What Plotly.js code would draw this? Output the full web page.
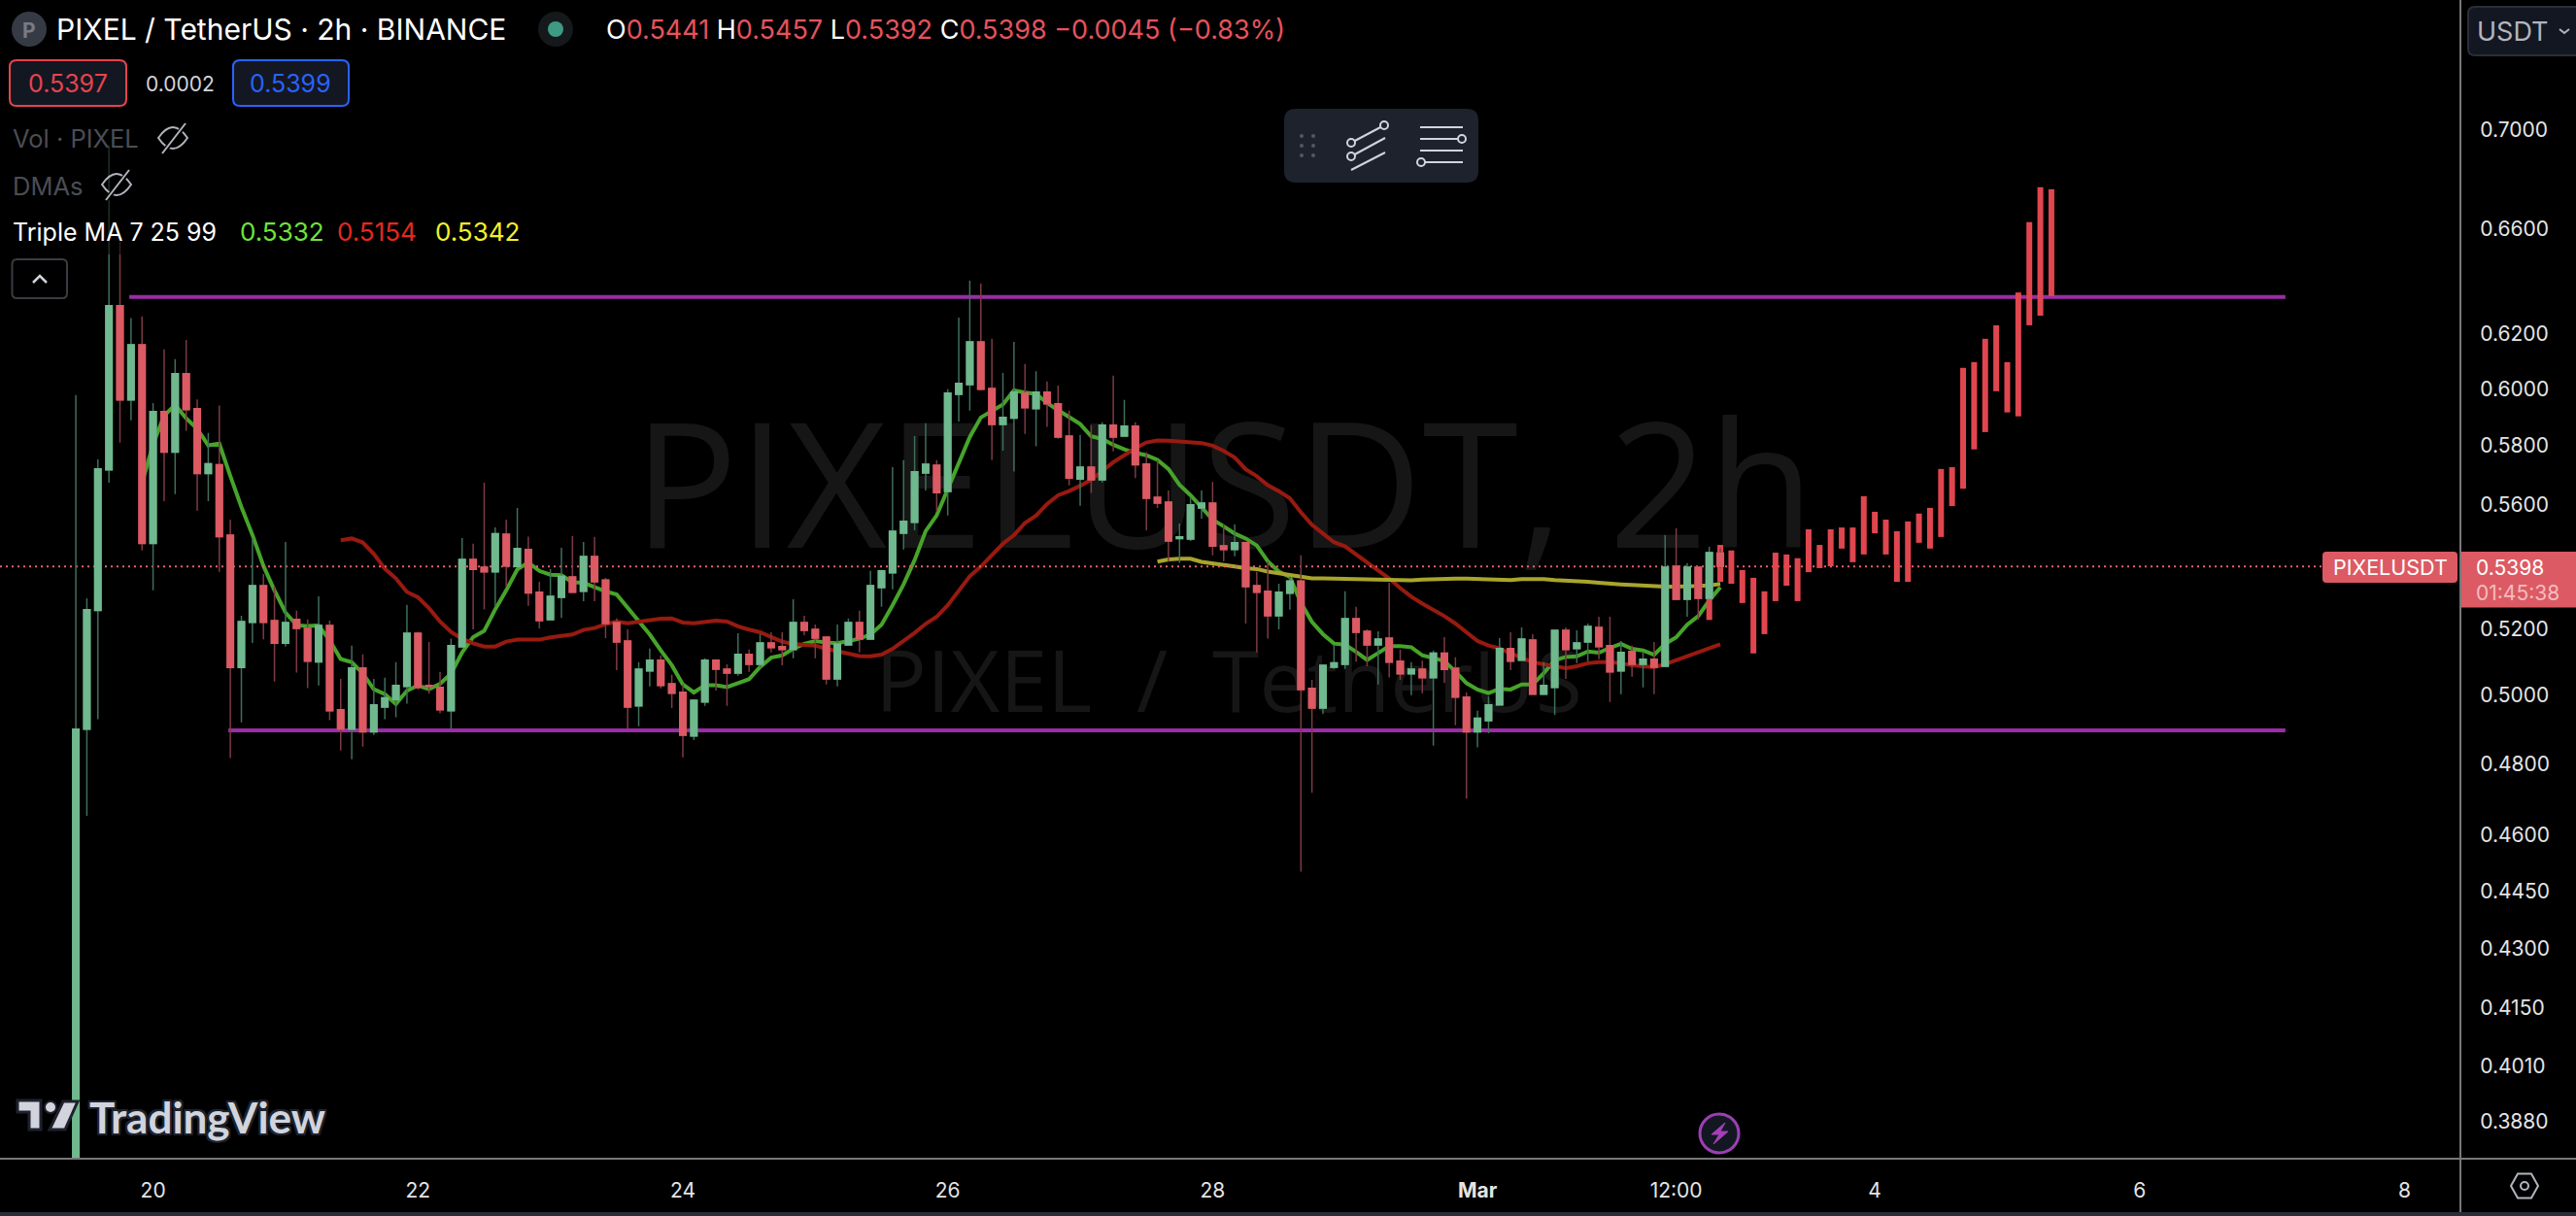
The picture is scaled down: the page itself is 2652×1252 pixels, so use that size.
<!DOCTYPE html>
<html><head><meta charset="utf-8">
<script src="https://cdn.plot.ly/plotly-3.0.1.min.js"></script>
<style>html,body{margin:0;padding:0;background:#000;overflow:hidden}#c{width:2652px;height:1252px}</style>
</head><body><div id="c"></div>
<script>
// ---------- DATA ----------
const opens=[.36,.4900,.5259,.5718,.6305,.5961,.6160,.5473,.5920,.5779,
.6055,.5930,.5706,.5735,.5500,.5083,.5222,.5337,.5227,.5157,
.5231,.5203,.5100,.5212,.4957,.4900,.5082,.4892,.4965,.4987,
.5026,.5188,.5029,.5023,.4954,.5146,.5421,.5396,.5381,.5503,
.5398,.5453,.5316,.5230,.5300,.5365,.5319,.5430,.5355,.5221,
.5164,.4968,.5073,.5105,.5034,.5009,.4880,.4980,.5105,.5078,
.5066,.5123,.5093,.5158,.5147,.5138,.5221,.5200,.5176,.5049,
.5152,.5221,.5170,.5331,.5378,.5506,.5542,.5707,.5734,.5645,
.5981,.6016,.6171,.6002,.5875,.5897,.5985,.5930,.5989,.5947,
.5834,.5687,.5727,.5684,.5872,.5834,.5869,.5738,.5625,.5609,
.5489,.5487,.5590,.5606,.5465,.5453,.5475,.5337,.5319,.5242,
.5313,.5352,.5020,.4962,.5084,.5093,.5233,.5194,.5152,.5173,
.5102,.5064,.5078,.5052,.5127,.5081,.4994,.4892,.4925,.4971,
.5141,.5105,.5167,.5003,.5023,.5197,.5141,.5161,.5206,.5150,
.5073,.5132,.5093,.5108,.5087,.5399,.5294,.5396,.5297,.5441];
const highs=[.5978,.5297,.5754,.6936,.6550,.6259,.6265,.5950,.6143,.6108,
.6178,.5963,.5845,.5941,.5551,.5242,.5490,.5374,.5334,.5478,
.5258,.5231,.5303,.5227,.5049,.5150,.5123,.5049,.5052,.5099,
.5276,.5192,.5161,.5070,.5171,.5490,.5472,.5674,.5525,.5551,
.5590,.5495,.5349,.5390,.5459,.5497,.5478,.5494,.5362,.5234,
.5200,.5099,.5141,.5120,.5061,.5032,.4988,.5111,.5108,.5093,
.5188,.5138,.5185,.5191,.5191,.5294,.5242,.5215,.5179,.5215,
.5234,.5258,.5384,.5387,.5727,.5751,.5834,.5879,.5751,.5999,
.6261,.6400,.6389,.6182,.6058,.6171,.6090,.6064,.6027,.6012,
.5923,.5838,.5872,.5882,.6048,.5961,.5882,.5778,.5751,.5648,
.5538,.5626,.5648,.5677,.5536,.5535,.5475,.5381,.5415,.5343,
.5366,.5434,.5046,.5093,.5153,.5319,.5270,.5200,.5194,.5346,
.5138,.5099,.5104,.5135,.5176,.5114,.5008,.4954,.4997,.5173,
.5191,.5206,.5185,.5099,.5200,.5206,.5197,.5218,.5239,.5239,
.5164,.5150,.5132,.5161,.5500,.5522,.5409,.5399,.5462,.5457];
const lows=[.35,.4653,.4929,.5674,.5811,.5889,.5450,.5322,.5612,.5636,
.5853,.5581,.5612,.5381,.4816,.4920,.5158,.5169,.5041,.5147,
.5068,.5021,.5029,.4926,.4838,.4813,.4849,.4883,.4929,.4935,
.4975,.5017,.5004,.4946,.4900,.5146,.5200,.5262,.5273,.5334,
.5398,.5273,.5203,.5230,.5235,.5313,.5288,.5288,.5173,.5075,
.4902,.4908,.5026,.5020,.4962,.4818,.4868,.4968,.5014,.4968,
.5058,.5070,.5081,.5129,.5090,.5111,.5182,.5111,.5032,.5026,
.5150,.5129,.5170,.5270,.5325,.5453,.5516,.5648,.5578,.5565,
.5885,.5923,.5995,.5751,.5784,.5712,.5842,.5799,.5866,.5825,
.5665,.5597,.5640,.5675,.5781,.5834,.5690,.5516,.5590,.5413,
.5410,.5481,.5554,.5434,.5415,.5431,.5218,.5129,.5171,.5200,
.5261,.4501,.4718,.4945,.5079,.5079,.5101,.5087,.5032,.5053,
.5046,.5000,.5006,.4852,.5036,.4911,.4701,.4847,.4888,.4971,
.5075,.5105,.5003,.5003,.4942,.5049,.5096,.5102,.5108,.4980,
.5003,.5055,.5023,.5003,.5087,.5291,.5239,.5230,.5297,.5392];
const closes=[.4900,.5261,.5721,.6305,.5961,.6160,.5473,.5920,.5779,.6055,
.5927,.5706,.5739,.5495,.5083,.5224,.5337,.5222,.5157,.5221,
.5203,.5102,.5212,.4954,.4900,.5082,.4892,.4971,.4992,.5029,
.5188,.5023,.5026,.4957,.5150,.5421,.5389,.5381,.5505,.5400,
.5456,.5314,.5227,.5303,.5367,.5316,.5430,.5349,.5218,.5161,
.4965,.5078,.5105,.5029,.5006,.4882,.4985,.5105,.5078,.5066,
.5123,.5093,.5158,.5144,.5138,.5221,.5197,.5173,.5049,.5155,
.5221,.5170,.5337,.5384,.5513,.5545,.5711,.5737,.5641,.5985,
.6020,.6171,.5999,.5875,.5899,.5989,.5934,.5989,.5947,.5831,
.5690,.5727,.5684,.5872,.5831,.5869,.5735,.5622,.5606,.5481,
.5494,.5600,.5606,.5464,.5453,.5475,.5334,.5316,.5242,.5316,
.5352,.5017,.4962,.5090,.5097,.5233,.5191,.5152,.5170,.5099,
.5064,.5078,.5052,.5127,.5077,.4994,.4892,.4932,.4971,.5141,
.5102,.5170,.5003,.5029,.5197,.5138,.5158,.5209,.5147,.5070,
.5129,.5093,.5108,.5084,.5396,.5294,.5396,.5297,.5443,.5398];

// Triple MA, first values belong to candle 6, 24 and 98
const ma7=[.5674,.5805,.5906,.5943,.5896,.5859,.5802,.5808,.5697,.5593,.5501,.5400,.5322,.5252,
.5213,.5210,.5212,.5166,.5109,.5099,.5065,.5018,.5003,.4974,.5013,.5029,.5018,.5034,.5065,.5129,
.5176,.5195,.5262,.5322,.5389,.5411,.5384,.5372,.5370,.5348,.5346,.5331,.5319,.5309,.5266,.5224,
.5184,.5135,.5090,.5032,.5008,.5030,.5030,.5024,.5036,.5048,.5085,.5113,.5120,.5140,.5155,.5164,
.5159,.5157,.5164,.5171,.5184,.5214,.5275,.5341,.5419,.5513,.5565,.5653,.5742,.5831,.5899,.5922,
.5945,.5995,.5987,.5983,.5950,.5925,.5901,.5876,.5833,.5824,.5804,.5788,.5776,.5768,.5752,.5721,
.5667,.5632,.5592,.5551,.5529,.5505,.5489,.5466,.5415,.5382,.5365,.5283,.5223,.5185,.5156,.5153,
.5131,.5106,.5127,.5148,.5148,.5145,.5120,.5111,.5103,.5071,.5036,.5017,.5006,.5019,.5017,.5032,
.5032,.5066,.5105,.5115,.5117,.5132,.5128,.5143,.5155,.5140,.5135,.5122,.5155,.5175,.5214,.5241,
.5290,.5332];
const ma25=[.5483,.5489,.5476,.5439,.5391,.5360,.5317,.5300,.5266,.5224,.5192,.5171,.5157,.5147,
.5147,.5162,.5168,.5168,.5168,.5175,.5180,.5184,.5198,.5204,.5216,.5224,.5219,.5224,.5231,.5233,
.5234,.5221,.5219,.5222,.5227,.5224,.5209,.5199,.5191,.5176,.5162,.5155,.5152,.5150,.5140,.5133,
.5127,.5118,.5117,.5122,.5140,.5164,.5189,.5217,.5239,.5275,.5321,.5367,.5398,.5435,.5472,.5500,
.5540,.5564,.5603,.5632,.5646,.5664,.5684,.5714,.5744,.5768,.5792,.5812,.5819,.5818,.5816,.5812,
.5810,.5801,.5783,.5760,.5720,.5696,.5666,.5646,.5622,.5575,.5534,.5505,.5477,.5463,.5438,.5413,
.5388,.5360,.5329,.5302,.5280,.5261,.5241,.5218,.5191,.5164,.5150,.5141,.5126,.5114,.5099,.5093,
.5087,.5081,.5087,.5096,.5099,.5099,.5096,.5090,.5087,.5084,.5093,.5105,.5120,.5129,.5141,.5154];
const ma99=[.5414,.5421,.5423,.5423,.5413,.5407,.5402,.5398,.5393,.5390,.5382,.5376,.5371,.5363,
.5360,.5360,.5359,.5358,.5358,.5357,.5357,.5356,.5355,.5354,.5356,.5358,.5359,.5359,.5359,.5358,
.5355,.5355,.5355,.5358,.5359,.5358,.5355,.5354,.5352,.5349,.5346,.5342,.5341,.5339,.5337,.5334,
.5334,.5334,.5334,.5336,.5338,.5342];

// Drawn "bars pattern": first bar sits at candle 148
const patternHigh=[.5382,.5468,.5450,.5387,.5362,.5319,.5443,.5437,.5425,.5519,.5468,.5519,.5525,.5525,.5629,.5577,
.5551,.5513,.5545,.5571,.5590,.5721,.5727,.6076,.6097,.6182,.6232,.6097,.6355,.6627,.6766,.6758];
const patternLow=[.5229,.5349,.5343,.5282,.5126,.5185,.5288,.5337,.5288,.5380,.5393,.5399,.5456,.5412,.5437,.5506,
.5437,.5349,.5349,.5475,.5456,.5494,.5596,.5654,.5788,.5848,.5992,.5917,.5903,.6232,.6268,.6341];

const resistance=.6338, support=.4896, lastPrice=.5398;
const yTicks=[.7,.66,.62,.6,.58,.56,.52,.5,.48,.46,.445,.43,.415,.401,.388];
const yTickText=['0.7000','0.6600','0.6200','0.6000','0.5800','0.5600','0.5200','0.5000','0.4800','0.4600','0.4450','0.4300','0.4150','0.4010','0.3880'];
const xTicks=['2024-02-20','2024-02-22','2024-02-24','2024-02-26','2024-02-28','2024-03-01','2024-03-02 12:00','2024-03-04','2024-03-06','2024-03-08'];
const xTickText=['20','22','24','26','28','<b>Mar</b>','12:00','4','6','8'];

// ---------- Scales ----------
const W=2652,H=1252,PR=2533,PB=1193;
const t0=Date.UTC(2024,1,19,10),STEP=2*3600e3;
const iso=ms=>new Date(ms).toISOString().slice(0,19).replace('T',' ');
const times=[];for(let i=0;i<180;i++)times.push(iso(t0+i*STEP));
const xRange=['2024-02-18 20:15:36','2024-03-08 10:07:00'];
const yRange=[Math.log10(.3794),Math.log10(.7564)];

const GU='#70b88e',RD='#dc5a63',GW='#3f6e5a',RW='#7c3a44';
const bodyHigh=opens.map((o,i)=>Math.max(o,closes[i])),bodyLow=opens.map((o,i)=>Math.min(o,closes[i]));

const traces=[
 {type:'scatter',mode:'lines',x:times.slice(6,150),y:ma7,line:{color:'#47a42a',width:4},hoverinfo:'skip'},
 {type:'scatter',mode:'lines',x:times.slice(24,150),y:ma25,line:{color:'#981a10',width:4},hoverinfo:'skip'},
 {type:'scatter',mode:'lines',x:times.slice(98,150),y:ma99,line:{color:'#a8a52c',width:4},hoverinfo:'skip'},
 {type:'scatter',mode:'lines',x:['2024-02-19 19:41','2024-03-07 02:24'],y:[resistance,resistance],line:{color:'#9c2ca8',width:4},hoverinfo:'skip'},
 {type:'scatter',mode:'lines',x:['2024-02-20 13:38','2024-03-07 02:24'],y:[support,support],line:{color:'#9c2ca8',width:4},hoverinfo:'skip'},
 {type:'scatter',mode:'lines',x:xRange,y:[lastPrice,lastPrice],line:{color:'#e5606a',width:2,dash:'2px,4px'},hoverinfo:'skip'},
 {type:'bar',xaxis:'x2',yaxis:'y2',x:times.slice(148),base:patternLow,y:patternHigh.map((h,i)=>h-patternLow[i]),width:3.8e6,marker:{color:'#e0464f',line:{width:0}},hoverinfo:'skip'},
 {type:'candlestick',xaxis:'x2',yaxis:'y2',x:times.slice(0,150),open:opens,high:highs,low:lows,close:closes,whiskerwidth:0,
  increasing:{line:{color:GW,width:1.5},fillcolor:GW},decreasing:{line:{color:RW,width:1.5},fillcolor:RW},hoverinfo:'skip'},
 {type:'candlestick',xaxis:'x2',yaxis:'y2',x:times.slice(0,150),open:opens,high:bodyHigh,low:bodyLow,close:closes,whiskerwidth:0,
  increasing:{line:{color:GU,width:1.5},fillcolor:GU},decreasing:{line:{color:RD,width:1.5},fillcolor:RD},hoverinfo:'skip'}
];

// ---------- Chrome helpers (page pixels -> paper fractions) ----------
const px=x=>x/W, py=y=>1-y/H;
const FONT='Inter, "Noto Sans", sans-serif';
const ann=[],shp=[];
function T(text,x,y,size,color,anchor,extra){ann.push(Object.assign({text,x:px(x),y:py(y),xref:'paper',yref:'paper',showarrow:false,xanchor:anchor||'left',yanchor:'middle',borderpad:0,
  font:{family:FONT,size,color}},extra||{}));}
function R(x0,y0,x1,y1,fill,stroke,sw,r){const k=r||0;const d=`M${px(x0+k)},${py(y0)}L${px(x1-k)},${py(y0)}Q${px(x1)},${py(y0)} ${px(x1)},${py(y0+k)}L${px(x1)},${py(y1-k)}Q${px(x1)},${py(y1)} ${px(x1-k)},${py(y1)}L${px(x0+k)},${py(y1)}Q${px(x0)},${py(y1)} ${px(x0)},${py(y1-k)}L${px(x0)},${py(y0+k)}Q${px(x0)},${py(y0)} ${px(x0+k)},${py(y0)}Z`;
  shp.push({type:'path',path:d,xref:'paper',yref:'paper',fillcolor:fill||'rgba(0,0,0,0)',line:{color:stroke||'rgba(0,0,0,0)',width:sw||0}});}
function C(cx,cy,r,fill,stroke,sw){shp.push({type:'circle',xref:'paper',yref:'paper',x0:px(cx-r),x1:px(cx+r),y0:py(cy+r),y1:py(cy-r),fillcolor:fill||'rgba(0,0,0,0)',line:{color:stroke||'rgba(0,0,0,0)',width:sw||0}});}
function L(pts,color,sw,fill){const d=pts.map((p,i)=>(i?'L':'M')+px(p[0])+','+py(p[1])).join('')+(fill?'Z':'');
  shp.push({type:'path',path:d,xref:'paper',yref:'paper',fillcolor:fill||'rgba(0,0,0,0)',line:{color:color||'rgba(0,0,0,0)',width:sw||0}});}
function Eye(cx,cy){const a=15,b=11;const d=`M${px(cx-a)},${py(cy)}Q${px(cx)},${py(cy-2*b)} ${px(cx+a)},${py(cy)}Q${px(cx)},${py(cy+2*b)} ${px(cx-a)},${py(cy)}Z`;
  shp.push({type:'path',path:d,xref:'paper',yref:'paper',line:{color:'#b2b5be',width:2},fillcolor:'rgba(0,0,0,0)'});
  L([[cx+13,cy-14],[cx-10,cy+15]],'#000',5);L([[cx+13,cy-15],[cx-11,cy+16]],'#b2b5be',2);}

// Watermarks (below the candles)
function WM(text,x0,x1,y0,y1,size){shp.push({type:'rect',layer:'below',xref:'paper',yref:'paper',x0:px(x0),x1:px(x1),y0:py(y1),y1:py(y0),line:{width:0},fillcolor:'rgba(0,0,0,0)',
  label:{text,textposition:'middle center',font:{family:'"Open Sans"',size,color:'#161616'},padding:0}});}
WM('PIXELUSDT, 2h',500,2020,406,606,179);
WM('PIXEL\u00a0 /\u00a0 TetherUS',800,1730,660,750,88);

// legend fade over the early wicks
shp.push({type:'rect',xref:'paper',yref:'paper',x0:px(100),x1:px(130),y0:py(262),y1:py(140),fillcolor:'rgba(0,0,0,.55)',line:{width:0}});

// axis borders and price labels
L([[PR,0],[PR,1248]],'#787878',2);L([[0,PB],[W,PB]],'#787878',2);
shp.push({type:'rect',xref:'paper',yref:'paper',x0:0,x1:1,y0:py(1252),y1:py(1248),fillcolor:'#2a2e39',line:{width:0}});

// header
C(30,30,18,'#363a45');T('<b>P</b>',30,31,21,'#787b86','center');
T('PIXEL / TetherUS · 2h · BINANCE',57,30,30,'#ffffff');
C(572,30,18,'#15191b');C(572,30,8,'#3e9a84');
const rv=v=>`<span style="color:#e5535d">${v}</span>`;
T('O'+rv('0.5441')+' H'+rv('0.5457')+' L'+rv('0.5392')+' C'+rv('0.5398')+' '+rv('−0.0045 (−0.83%)'),623,30,27,'#ffffff');

R(10,62,130,109,'#131722','#e5444f',2,7);T('0.5397',70,86,25,'#e5444f','center');
T('0.0002',185,86,21,'#d1d4dc','center');
R(240,62,359,109,'#131722','#2962ff',2,7);T('0.5399',299,86,25,'#2962ff','center');

T('Vol · PIXEL',11.5,143,25.5,'#4a4d55');Eye(178,142);
T('DMAs',11.5,191,25.5,'#4a4d55');Eye(120,190);
T('Triple MA 7 25 99',12,239,25,'#ffffff');
T('0.5332',246,239,26,'#6fe23a');T('0.5154',346,239,26,'#e5281f');T('0.5342',447,239,26,'#f4f02a');
R(12.5,267,69,307,'#000','#3a3c42',2,5);L([[34,291],[41,284],[48,291]],'#d1d4dc',2.5);

// floating toolbar
R(1322,112,1522,188,'#1e222d',null,0,12);
[1340,1352].forEach(x=>[140,150,160].forEach(y=>C(x,y,2,'#555860')));
L([[1391,147],[1425,129]],'#d1d4dc',2);L([[1391,161],[1426,142]],'#d1d4dc',2);L([[1391,175],[1426,157]],'#d1d4dc',2);
C(1391,147,4,'#1e222d','#d1d4dc',2);C(1425,129,4,'#1e222d','#d1d4dc',2);C(1391,161,4,'#1e222d','#d1d4dc',2);
[131,143,155,167].forEach(y=>L([[1462,y],[1506,y]],'#d1d4dc',2));
C(1505,143,4,'#1e222d','#d1d4dc',2);C(1463,167,4,'#1e222d','#d1d4dc',2);

// USDT selector and last-price tags
R(2541,7,2660,57,'#131722','#2a2e39',2,7);T('USDT',2549,32,27,'#b2b5be');L([[2635,30],[2640,34],[2645,30]],'#b2b5be',2);
R(2391,568,2530,600,'#dc5a63',null,0,4);T('PIXELUSDT',2460.5,584,21.5,'#ffffff','center');
R(2534,568,2652,625.5,'#dc5a63');T('0.5398',2548,584,21,'#ffffff');T('01:45:38',2548,610,21,'#f3bcc0');

// TradingView logo
const LOGO='#d1d4dc';
L([[18,1133],[42,1133],[42,1163],[30,1163],[30,1145],[18,1145]],'#1e222d',3,LOGO);
C(52,1140,6,LOGO,'#1e222d',2);
L([[65,1134],[80,1134],[67,1163],[51,1163]],'#1e222d',3,LOGO);
T('<b>TradingView</b>',91,1150,44,LOGO,'left',{});
ann[ann.length-1].font.family='Lato';
ann[ann.length-1].font.shadow='-2px 0 #1e222d,2px 0 #1e222d,0 -2px #1e222d,0 2px #1e222d,2px 2px #1e222d,-2px -2px #1e222d,2px -2px #1e222d,-2px 2px #1e222d';

// lightning badge
C(1770,1167,20,'#131722','#9c3fb5',3);
L([[1776,1156],[1762,1168],[1770,1168],[1764,1178],[1779,1165],[1771,1165]],'#a53fb8',1,'#a53fb8');

// settings hexagon
L([[2585,1221],[2592,1208.5],[2606,1208.5],[2613,1221],[2606,1233.5],[2592,1233.5]],'#b2b5be',2);shp[shp.length-1].path+='Z';
C(2599,1221,4,null,'#b2b5be',2);

const axisCommon={showgrid:false,zeroline:false};
const layout={
 width:W,height:H,margin:{l:0,r:0,t:0,b:0,pad:0},paper_bgcolor:'#000',plot_bgcolor:'#000',showlegend:false,
 boxmode:'overlay',boxgap:.43,boxgroupgap:0,barmode:'overlay',dragmode:false,hovermode:false,
 font:{family:FONT,color:'#d8d8d8'},
 xaxis:Object.assign({},axisCommon,{type:'date',domain:[0,PR/W],range:xRange,tickmode:'array',tickvals:xTicks,ticktext:xTickText,
   ticks:'outside',ticklen:14,tickcolor:'rgba(0,0,0,0)',tickfont:{family:FONT,size:21,color:'#e4e4e4'},showline:false,rangeslider:{visible:false},anchor:'y'}),
 yaxis:Object.assign({},axisCommon,{type:'log',domain:[1-PB/H,1],range:yRange,side:'right',tickmode:'array',tickvals:yTicks,ticktext:yTickText,
   ticks:'outside',ticklen:15,tickcolor:'rgba(0,0,0,0)',tickfont:{family:FONT,size:21,color:'#e4e4e4'},showline:false,anchor:'x'}),
 xaxis2:Object.assign({},axisCommon,{type:'date',overlaying:'x',range:xRange,visible:false,rangeslider:{visible:false},anchor:'y2'}),
 yaxis2:Object.assign({},axisCommon,{type:'log',overlaying:'y',range:yRange,visible:false,anchor:'x2'}),
 annotations:ann,shapes:shp
};
Plotly.newPlot('c',traces,layout,{displayModeBar:false,staticPlot:true,responsive:false});
</script></body></html>
